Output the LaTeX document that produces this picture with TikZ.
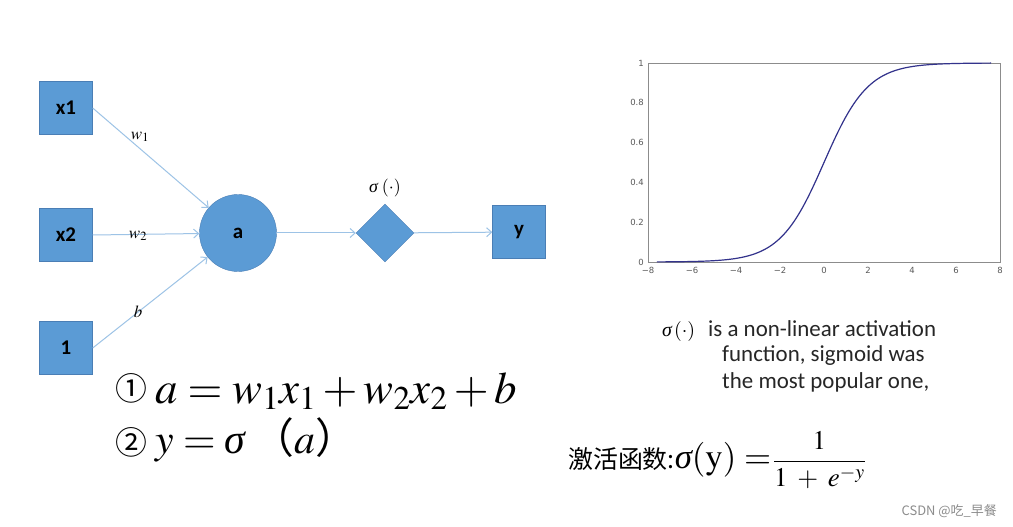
\documentclass[tikz,border=0pt]{standalone}
\usepackage{amsmath}
\usepackage{mathptmx}
\usepackage[no-math]{fontspec}
\newfontfamily\calib{Carlito}
\newfontfamily\cjk{Noto Sans CJK SC}
\newfontfamily\dejavu{DejaVu Sans}
\newfontfamily\tms{Liberation Serif}
\newcommand{\sgm}{\text{\tms\itshape σ}}
\usetikzlibrary{shapes.geometric,arrows.meta}
\definecolor{cellblue}{HTML}{5B9BD5}
\definecolor{cellline}{HTML}{4A7EB5}
\definecolor{linkblue}{HTML}{9DC3E6}
\definecolor{curveblue}{HTML}{33338C}
\tikzset{
  cell/.style={draw=cellline, fill=cellblue, minimum size=53bp, inner sep=0pt,
    font=\calib\bfseries\fontsize{21}{21}\selectfont},
  neuron/.style={cell, circle, minimum size=77bp},
  activ/.style={draw=cellline, fill=cellblue, diamond, minimum size=58bp, inner sep=0pt},
  link/.style={draw=linkblue, line width=1bp, -{Straight Barb[length=5bp,width=9bp]}},
  wlabel/.style={font=\fontsize{17}{17}\selectfont, inner sep=0pt},
  tick/.style={font=\dejavu\fontsize{8.5}{9}\selectfont, text=black!65, inner sep=1bp},
  note/.style={anchor=base west, inner sep=0pt, font=\calib\fontsize{23}{25}\selectfont, text=black!85}
}
\begin{document}
\begin{tikzpicture}[x=1bp,y=-1bp]
        \useasboundingbox (0,0) rectangle (1013,527);
        \fill[white] (0,0) rectangle (1013,527);

        % the neuron
        \node[cell] (x1) at (66,108) {x1};
        \node[cell] (x2) at (66,235) {x2};
        \node[cell] (one) at (66,348) {1};
        \node[neuron] (a) at (238,233) {a};
        \node[activ] (act) at (385,233) {};
        \node[cell] (y) at (519,232) {y};
        \node[font=\fontsize{18}{18}\selectfont] (actlab) at (385,188) {$\sgm\;(\cdot)$};

        \draw[link] (x1.east) -- (a);
        \draw[link] (x2.east) -- (a);
        \draw[link] (one.east) -- (a);
        \draw[link] (a) -- (act);
        \draw[link] (act) -- (y);

        \node[wlabel] (w1lab) at (140,137) {$w_1$};
        \node[wlabel] (w2lab) at (138,236) {$w_2$};
        \node[wlabel] (blab) at (138,312) {$b$};

        % equations
        \node[font=\cjk\fontsize{32}{32}\selectfont] (n1) at (131,388) {①};
        \node[anchor=base west, inner sep=0pt, font=\fontsize{45}{45}\selectfont] (eq1) at (155,403)
          {$a=w_1x_1+w_2x_2+b$};
        \node[font=\cjk\fontsize{32}{32}\selectfont] (n2) at (131,442) {②};
        \node[anchor=base west, inner sep=0pt, font=\fontsize{42}{42}\selectfont] (eq2) at (155,453)
          {$y=\sgm$\,{\cjk （}$a${\cjk ）}};

        % sigmoid plot
        \draw[black!45, line width=0.8bp] (648,63) rectangle (1000,262);
        \foreach \v in {0,0.2,0.4,0.6,0.8,1}
          \node[tick, anchor=east] at (645,{262-199*\v}) {\v};
        \foreach \v/\t in {-8/−8,-6/−6,-4/−4,-2/−2,0/0,2/2,4/4,6/6,8/8}
          \node[tick, anchor=north] at ({824+22*\v},266) {\t};
        \draw[curveblue, line width=1.2bp, domain=-7.6:7.6, samples=120, smooth]
          plot ({824+22*\x},{262-199/(1+exp(-\x))});

        \node[anchor=base west, inner sep=0pt, font=\fontsize{20}{20}\selectfont] (sigtxt) at (662,337)
          {$\sgm\,(\cdot)$};
        \node[note] (line1) at (708,337) {is a non-linear activation};
        \node[note] (line2) at (722,362) {function, sigmoid was};
        \node[note] (line3) at (722,388) {the most popular one,};

        % activation function
        \node[anchor=base west, inner sep=0pt] (sigdef) at (568,468)
          {{\cjk\fontsize{25}{25}\selectfont 激活函数:}{\fontsize{35}{35}\selectfont$\sgm(\mathrm{y})=$}\,%
           {\fontsize{27}{27}\selectfont$\dfrac{1}{1\;+\;e^{-y}}$}};

        \node[anchor=base east, inner sep=0pt, text=black!45, font=\cjk\fontsize{13}{13}\selectfont] (mark)
          at (997,515) {CSDN @吃\_早餐};
\end{tikzpicture}
\end{document}
